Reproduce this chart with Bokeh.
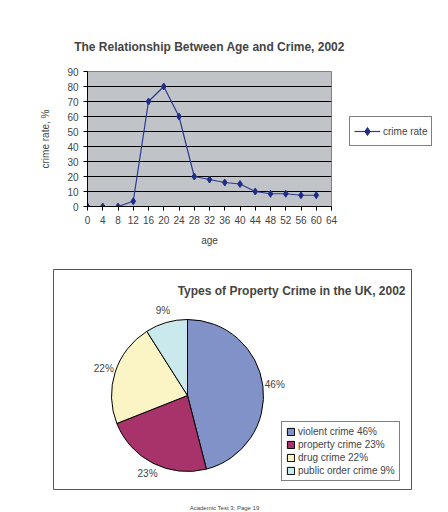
import numpy as np
from bokeh.plotting import figure
from bokeh.layouts import column, row
from bokeh.models import (Legend, LegendItem, Label, FixedTicker, ColumnDataSource,
                          Range1d)
from bokeh.embed import file_html
from bokeh.resources import INLINE

# ---------------- data ----------------
ages = [0, 4, 8, 12, 16, 20, 24, 28, 32, 36, 40, 44, 48, 52, 56, 60]
crime_rate = [0, 0, 0, 3.5, 70, 80, 60, 20, 18, 16, 15, 10, 8.5, 8.5, 7.5, 7.5]
x_ticks = list(range(0, 65, 4))
y_ticks = list(range(0, 91, 10))

crime_types = ["violent crime", "property crime", "drug crime", "public order crime"]
crime_shares = [46, 23, 22, 9]
crime_colors = ["#8192c9", "#a8336b", "#fbf4c4", "#c9e9ec"]

FONT = "Liberation Sans"
LINE_COLOR = "#2a3a92"
MARK_COLOR = "#1f2d86"

# ---------------- line chart ----------------
p1 = figure(width=348, height=262, output_backend="svg", toolbar_location=None,
            x_range=Range1d(0, 64), y_range=Range1d(0, 90),
            min_border_left=87, min_border_right=17, min_border_top=71, min_border_bottom=56)
p1.frame_align = False
p1.background_fill_color = "#c0c4c8"
p1.outline_line_color = "#808080"
p1.title.text = "The Relationship Between Age and Crime, 2002"
p1.title.text_font = FONT
p1.title.text_font_size = "12px"
p1.title.text_font_style = "bold"
p1.title.align = "center"
p1.title.standoff = 36

p1.line(ages, crime_rate, line_color=LINE_COLOR, line_width=1.2)
p1.scatter(ages, crime_rate, marker="diamond", size=7, fill_color=MARK_COLOR,
           line_color=MARK_COLOR)

p1.xaxis.ticker = FixedTicker(ticks=x_ticks)
p1.yaxis.ticker = FixedTicker(ticks=y_ticks)
p1.xaxis.axis_label = "age"
p1.yaxis.axis_label = "crime rate, %"
for ax in (p1.xaxis, p1.yaxis):
    ax.major_label_text_font = FONT
    ax.major_label_text_font_size = "10px"
    ax.axis_label_text_font = FONT
    ax.axis_label_text_font_size = "10px"
    ax.axis_label_text_font_style = "normal"
    ax.axis_line_color = "black"
    ax.major_tick_line_color = "black"
    ax.major_tick_out = 4
    ax.major_tick_in = 0
    ax.minor_tick_line_color = None
p1.xaxis.axis_label_standoff = 8
p1.yaxis.axis_label_standoff = 13
p1.xgrid.grid_line_color = None
p1.ygrid.grid_line_color = "black"
p1.ygrid.grid_line_alpha = 1.0

# ---------------- legend panel for the line chart ----------------
pl = figure(width=100, height=262, output_backend="svg", toolbar_location=None,
            x_range=Range1d(0, 100), y_range=Range1d(0, 262), min_border=0)
pl.frame_align = False
pl.axis.visible = False
pl.grid.visible = False
pl.outline_line_color = None
proxy_line = pl.line(x=[np.nan, np.nan], y=[np.nan, np.nan], line_color=LINE_COLOR,
                     line_width=1.2)
proxy_pts = pl.scatter(x=[np.nan], y=[np.nan], marker="diamond", size=7,
                       fill_color=MARK_COLOR, line_color=MARK_COLOR)
leg1 = Legend(items=[LegendItem(label="crime rate", renderers=[proxy_line, proxy_pts])],
              location=(1, 116), padding=4,
              label_text_font=FONT, label_text_font_size="10px",
              glyph_width=26, label_standoff=3,
              border_line_color="black", border_line_width=1)
pl.add_layout(leg1, "center")

# ---------------- pie chart ----------------
W2, H2 = 448, 250
p2 = figure(width=W2, height=H2, output_backend="svg", toolbar_location=None,
            x_range=Range1d(0, W2), y_range=Range1d(0, H2),
            min_border=0)
p2.frame_align = False
p2.axis.visible = False
p2.grid.visible = False
p2.outline_line_color = None
p2.background_fill_color = "white"
p2.border_fill_color = "white"

# framing box
p2.quad(left=[53], right=[411], bottom=[23], top=[243], fill_color="white",
        line_color="#555555", line_width=1)

cx, cy, r = 187, 117, 76
shares = np.array(crime_shares, dtype=float)
fracs = shares / shares.sum()
cum = np.concatenate([[0], np.cumsum(fracs)])
# clockwise from 12 o'clock
start = np.pi / 2 - cum[1:] * 2 * np.pi
end = np.pi / 2 - cum[:-1] * 2 * np.pi
src = ColumnDataSource(dict(start=start, end=end, color=crime_colors))
wedges = p2.wedge(x=cx, y=cy, radius=r, start_angle="start", end_angle="end",
                  fill_color="color", line_color="black", line_width=1, source=src)

mid = np.pi / 2 - (cum[:-1] + fracs / 2) * 2 * np.pi
lr = 88
for m, s in zip(mid, crime_shares):
    p2.add_layout(Label(x=cx + lr * np.cos(m), y=cy + lr * np.sin(m), text=f"{s}%",
                        text_font=FONT, text_font_size="10px",
                        text_align="center", text_baseline="middle"))

p2.add_layout(Label(x=405, y=222, text="Types of Property Crime in the UK, 2002",
                    text_font=FONT, text_font_size="12px", text_font_style="bold",
                    text_align="right", text_baseline="middle"))

leg2 = Legend(items=[LegendItem(label=f"{t} {s}%", renderers=[wedges], index=i)
                     for i, (t, s) in enumerate(zip(crime_types, crime_shares))],
              location=(281, 31), padding=4, spacing=2,
              label_text_font=FONT, label_text_font_size="10px",
              glyph_width=9, glyph_height=9, label_standoff=3,
              border_line_color="black", border_line_width=1)
p2.add_layout(leg2, "center")

p2.add_layout(Label(x=224, y=5, text="Academic Test 3; Page 19",
                    text_font=FONT, text_font_size="6px",
                    text_align="center", text_baseline="middle"))

layout = column(row(p1, pl, spacing=0), p2, spacing=0)
open("out.html", "w").write(file_html(layout, INLINE))
